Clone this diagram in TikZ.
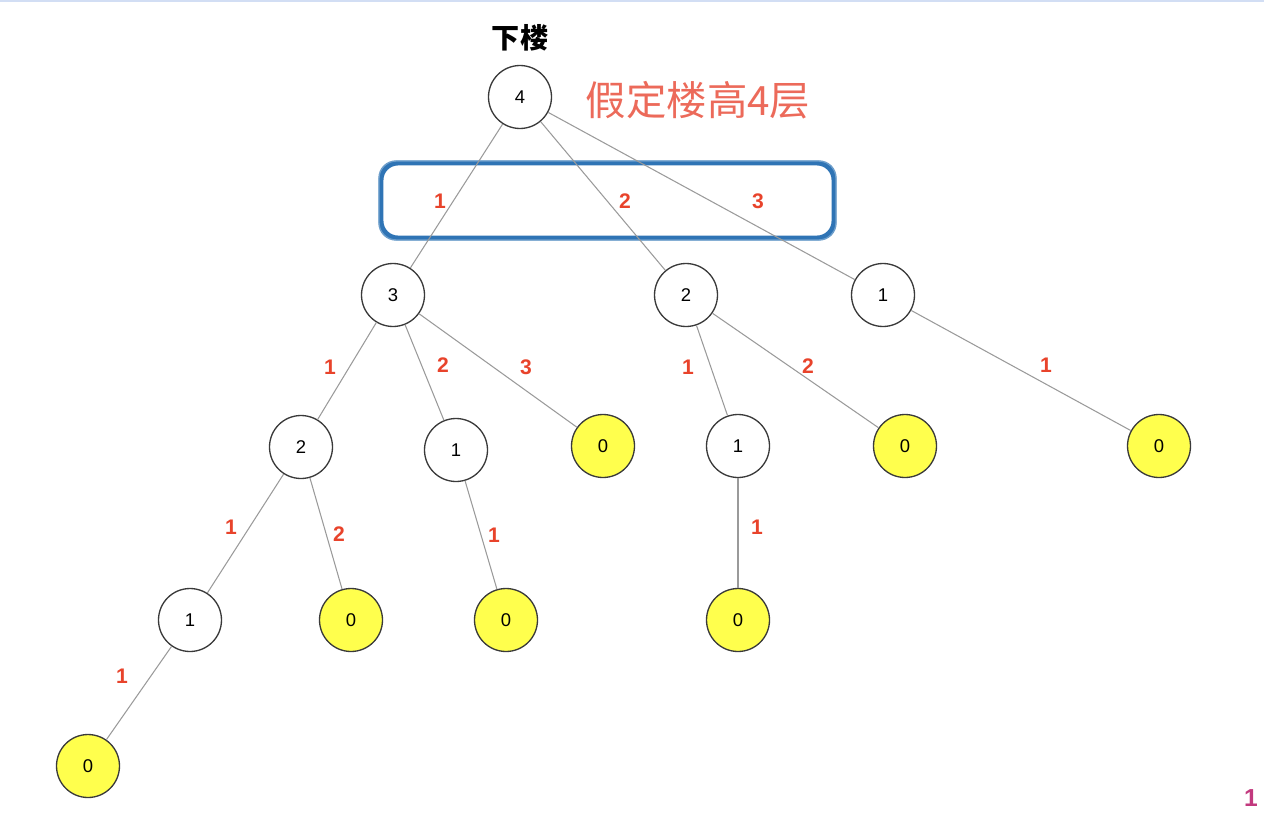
\documentclass[tikz,border=0pt]{standalone}
\usepackage{fontspec}
\setmainfont{Liberation Sans}
\newfontfamily\cjk{Noto Sans CJK SC}
\definecolor{rand}{HTML}{3A3A3A}
\definecolor{kante}{HTML}{9A9A9A}
\definecolor{boden}{HTML}{FFFF4D}
\definecolor{rot}{HTML}{E8432B}
\definecolor{lachs}{HTML}{EC6A5A}
\definecolor{blau}{HTML}{2F74B5}
\definecolor{magenta}{HTML}{C2397E}
\definecolor{hellblau}{HTML}{D2DEF4}

\tikzset{
  stock/.style={circle, draw=rand, line width=0.75pt, fill=white,
                minimum size=1.26cm, inner sep=0pt, font=\fontsize{10.5}{12}\selectfont},
  boden/.style={stock, fill=boden},
  kante/.style={draw=kante, line width=0.6pt},
  wurf/.style={font=\fontsize{12}{14}\selectfont\bfseries, text=rot}
}

\begin{document}
\begin{tikzpicture}[x=0.02cm, y=-0.02cm]
  \useasboundingbox (0,0) rectangle (1264,818);
  \draw[hellblau, line width=1pt] (0,1) -- (1264,1);

  % Markierung
  \draw[blau, line width=2.8pt, rounded corners=0.34cm]
    (381,163) rectangle (834,238);
  \draw[blau!70, line width=0.8pt, rounded corners=0.34cm]
    (379,161) rectangle (836,240);

  % Stockwerke
  \node[stock] (s4) at (520,97) {4};
  \node[stock] (s3) at (393,295) {3};
  \node[stock] (s2) at (686,295) {2};
  \node[stock] (s1) at (883,295) {1};
  \node[stock] (s32) at (301,447) {2};
  \node[stock] (s31) at (456,450) {1};
  \node[boden] (s30) at (603,446) {0};
  \node[stock] (s21) at (738,446) {1};
  \node[boden] (s20) at (905,446) {0};
  \node[boden] (s10) at (1159,446) {0};
  \node[stock] (s321) at (190,620) {1};
  \node[boden] (s320) at (351,620) {0};
  \node[boden] (s310) at (506,620) {0};
  \node[boden] (s210) at (738,620) {0};
  \node[boden] (s3210) at (88,766) {0};

  % Kanten
  \draw[kante] (s4) -- (s3);
  \draw[kante] (s4) -- (s2);
  \draw[kante] (s4) -- (s1);
  \draw[kante] (s3) -- (s32);
  \draw[kante] (s3) -- (s31);
  \draw[kante] (s3) -- (s30);
  \draw[kante] (s2) -- (s21);
  \draw[kante] (s2) -- (s20);
  \draw[kante] (s1) -- (s10);
  \draw[kante] (s32) -- (s321);
  \draw[kante] (s32) -- (s320);
  \draw[kante] (s31) -- (s310);
  \draw[kante] (s21) -- (s210);
  \draw[kante] (s321) -- (s3210);

  % Stockwerke pro Schritt
  \node[wurf] at (440,201) {1};
  \node[wurf] at (625,201) {2};
  \node[wurf] at (758,201) {3};
  \node[wurf] at (330,367) {1};
  \node[wurf] at (443,365) {2};
  \node[wurf] at (526,367) {3};
  \node[wurf] at (688,367) {1};
  \node[wurf] at (808,366) {2};
  \node[wurf] at (1046,365) {1};
  \node[wurf] at (231,527) {1};
  \node[wurf] at (339,534) {2};
  \node[wurf] at (494,535) {1};
  \node[wurf] at (757,527) {1};
  \node[wurf] at (122,676) {1};

  \node[font=\cjk\bfseries\fontsize{16}{18}\selectfont] (titel) at (520,38) {下楼};
  \node[font=\cjk\fontsize{23}{26}\selectfont, text=lachs] (hoehe) at (698,100) {假定楼高4层};
  \node[font=\fontsize{14}{16}\selectfont\bfseries, text=magenta] (seite) at (1251,798) {1};
\end{tikzpicture}
\end{document}
